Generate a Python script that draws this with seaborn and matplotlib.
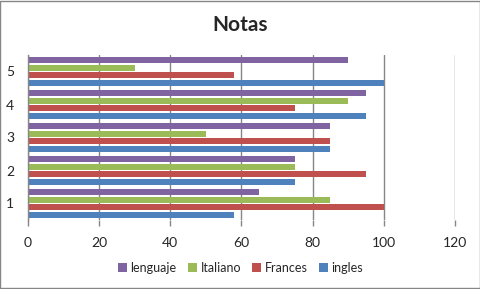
import matplotlib
matplotlib.use("Agg")
import matplotlib.pyplot as plt
import seaborn as sns
import pandas as pd
from matplotlib.patches import Rectangle, Patch

categories = ["1", "2", "3", "4", "5"]
ingles = [58, 75, 85, 95, 100]
frances = [100, 95, 85, 75, 58]
italiano = [85, 75, 50, 90, 30]
lenguaje = [65, 75, 85, 95, 90]
series_names = ["ingles", "Frances", "Italiano", "lenguaje"]
colors = ["#4F81BD", "#C0504D", "#9BBB59", "#8064A2"]
xticks = [0, 20, 40, 60, 80, 100, 120]

rows = []
for name, vals in zip(series_names, [ingles, frances, italiano, lenguaje]):
    for c, v in zip(categories, vals):
        rows.append({"cat": c, "serie": name, "valor": v})
df = pd.DataFrame(rows)

sns.set_theme(style="white")
plt.rcParams["font.family"] = ["Lato", "DejaVu Sans"]

fig = plt.figure(figsize=(4.81, 2.89), dpi=100)
ax = fig.add_axes([28/481, 1-220/289, (455-28)/481, (220-55)/289])

sns.barplot(data=df, y="cat", x="valor", hue="serie", order=categories,
            hue_order=series_names, palette=colors, orient="h",
            width=0.92, ax=ax, legend=False, saturation=1)
for p in ax.patches:
    h = p.get_height()
    p.set_height(h*0.8)
    p.set_y(p.get_y() + h*0.1)
    p.set_linewidth(0)

ax.set_ylim(-0.5, 4.5)
ax.set_xlim(0, 120)
ax.set_xticks(xticks)
ax.set_xticklabels([str(t) for t in xticks])
ax.xaxis.grid(True, color="#868686", linewidth=1)
ax.set_axisbelow(True)
ax.set_xlabel("")
ax.set_ylabel("")
for s in ["top", "right", "bottom"]:
    ax.spines[s].set_visible(False)
ax.spines["left"].set_color("#868686")
ax.spines["left"].set_linewidth(1)
ax.tick_params(axis="x", length=4, color="#868686", width=1, pad=8, labelsize=10, bottom=True)
ax.tick_params(axis="y", length=0, pad=10, labelsize=10)

fig.text(0.5, 1-25/289, "Notas", ha="center", va="center", fontsize=15, fontweight="bold")

handles = [Patch(facecolor=c, edgecolor="none") for c in colors][::-1]
labels = series_names[::-1]
fig.legend(handles, labels, loc="center", bbox_to_anchor=(0.5, 1-268/289), ncol=4,
           frameon=False, fontsize=9, handlelength=0.7, handleheight=0.7,
           handletextpad=0.3, columnspacing=0.9)

fig.patches.append(Rectangle((0.001, 0.002), 0.997, 0.995, transform=fig.transFigure,
                             fill=False, edgecolor="#868686", linewidth=1))

fig.savefig("out.png", dpi=100)
